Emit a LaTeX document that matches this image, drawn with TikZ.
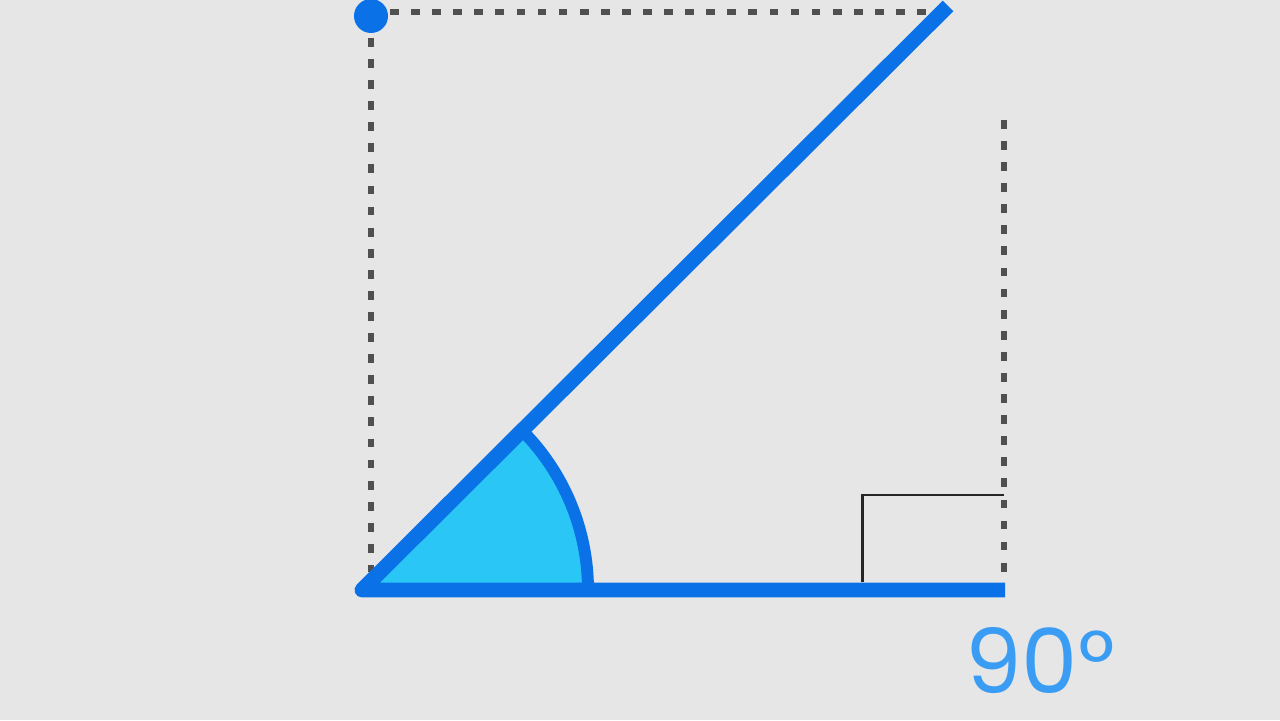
\documentclass[tikz,border=0pt]{standalone}
\usepackage{fontspec}
\newfontfamily\labelfont{Poppins}
\definecolor{bgray}{HTML}{E6E6E6}
\definecolor{rayblue}{HTML}{0A72E6}
\definecolor{sectorblue}{HTML}{29C6F6}
\definecolor{textblue}{HTML}{3A9DF3}
\definecolor{dashgray}{HTML}{505050}
\begin{document}
\begin{tikzpicture}%
	[x=0.02cm, y=0.02cm,
	ray/.style={color=rayblue, line width=8.5pt, line join=round},
	arcedge/.style={color=rayblue, line width=6.8pt},
	sector/.style={fill=sectorblue},
	guide/.style={color=dashgray, line width=3.2pt, dash pattern=on 5pt off 7pt},
	rightmark/.style={color=black!85, line width=1.7pt},
	dot/.style={fill=rayblue},
	anglelabel/.style={text=textblue, font=\labelfont\fontsize{51}{53}\selectfont, inner sep=0pt, text depth=0pt, anchor=base}]
	\fill[bgray] (0,0) rectangle (1280,720);
	\useasboundingbox (0,0) rectangle (1280,720);

	% points
	\coordinate (O) at (362,130);
	\coordinate (B) at (1005,130);
	\coordinate (T) at (948,714);
	\coordinate (D) at (371,704);
	\coordinate (topend) at (942,708);
	\coordinate (topstart) at (390,708);
	\coordinate (leftend) at (371,148);
	\coordinate (leftstart) at (371,682);
	\coordinate (rightstart) at (1004,600);
	\coordinate (rightend) at (1004,138);
	\coordinate (sqa) at (862,138);
	\coordinate (sqb) at (862,225);
	\coordinate (sqc) at (1004,225);

	% dashed guides
	\draw[guide] (topstart) -- (topend);
	\draw[guide] (leftstart) -- (leftend);
	\draw[guide] (rightstart) -- (rightend);

	% right angle mark
	\draw[rightmark] (sqa) -- (sqb) -- (sqc);

	% angle sector
	\fill[sector] (O) -- ++(0:226) arc (0:45:226) -- cycle;
	\draw[arcedge] (O) ++(0:226) arc (0:45:226);

	% rays
	\draw[ray] (T) -- (O) -- (B);
	\fill[dot] (D) circle (17);

	\node[anglelabel] (label) at (1040,27) {90°};
\end{tikzpicture}
\end{document}
